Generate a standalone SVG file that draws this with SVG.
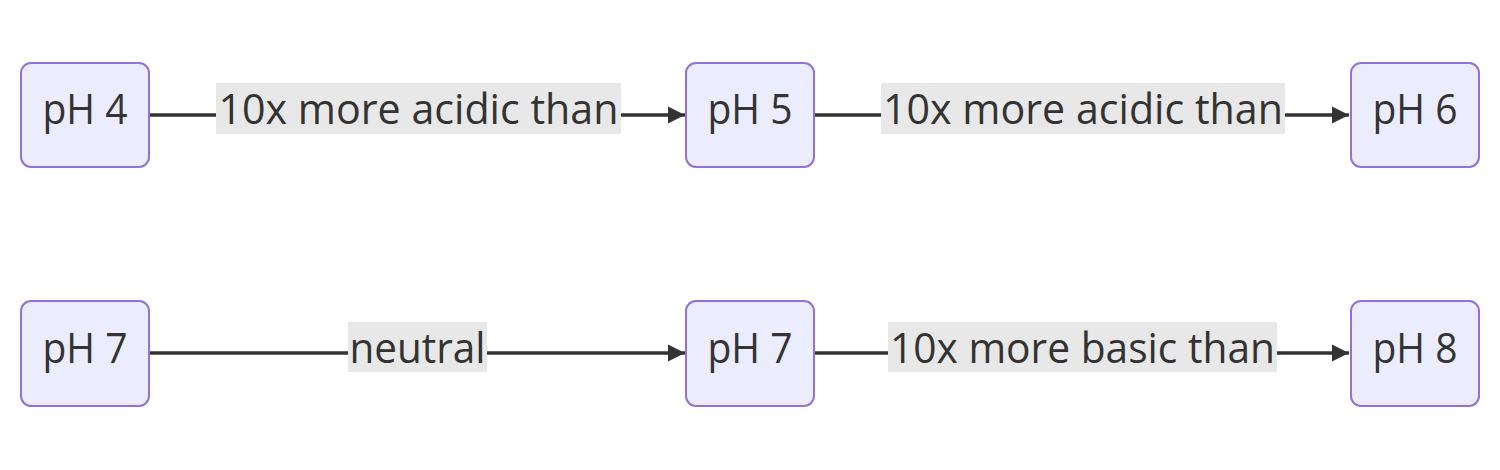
<svg xmlns="http://www.w3.org/2000/svg" width="1500" height="470" viewBox="0 0 1500 470">
<style>
.node rect{fill:#ECECFF;stroke:#9370DB;stroke-width:2}
.node text{font-family:"Open Sans","Noto Sans","DejaVu Sans",sans-serif;font-size:42px;fill:#333;text-anchor:middle}
.edge{stroke:#333;stroke-width:3.5;fill:none}
.lbl rect{fill:#e8e8e8}
.lbl text{font-family:"Open Sans","Noto Sans","DejaVu Sans",sans-serif;font-size:42px;fill:#333;text-anchor:middle}
</style>
<defs>
<marker id="arrow" viewBox="0 0 10 10" refX="10" refY="5" markerWidth="5" markerHeight="5" markerUnits="strokeWidth" orient="auto">
<path d="M0,0 L10,5 L0,10 z" fill="#333"/>
</marker>
</defs>
<rect width="1500" height="470" fill="#fff"/>
<g id="connectors">
<path class="edge" d="M149,115 L685,115" marker-end="url(#arrow)"/>
<path class="edge" d="M814,115 L1349,115" marker-end="url(#arrow)"/>
<path class="edge" d="M149,353 L685,353" marker-end="url(#arrow)"/>
<path class="edge" d="M814,353 L1349,353" marker-end="url(#arrow)"/>
<g class="lbl">
<rect x="216" y="83" width="405" height="51"/>
<text x="418.5" y="124" textLength="400" lengthAdjust="spacingAndGlyphs">10x more acidic than</text>
</g>
<g class="lbl">
<rect x="881" y="83" width="404" height="51"/>
<text x="1083" y="124" textLength="400" lengthAdjust="spacingAndGlyphs">10x more acidic than</text>
</g>
<g class="lbl">
<rect x="348" y="322" width="139" height="50"/>
<text x="417.5" y="363" textLength="136" lengthAdjust="spacingAndGlyphs">neutral</text>
</g>
<g class="lbl">
<rect x="888" y="322" width="389" height="50"/>
<text x="1082.5" y="363" textLength="385" lengthAdjust="spacingAndGlyphs">10x more basic than</text>
</g>
</g>
<g id="n_ph4" class="node"><rect x="21" y="63" width="128" height="104" rx="10"/><text x="85" y="124" textLength="85" lengthAdjust="spacingAndGlyphs">pH 4</text></g>
<g id="n_ph5" class="node"><rect x="686" y="63" width="128" height="104" rx="10"/><text x="750" y="124" textLength="85" lengthAdjust="spacingAndGlyphs">pH 5</text></g>
<g id="n_ph6" class="node"><rect x="1351" y="63" width="128" height="104" rx="10"/><text x="1415" y="124" textLength="85" lengthAdjust="spacingAndGlyphs">pH 6</text></g>
<g id="n_ph7a" class="node"><rect x="21" y="301" width="128" height="105" rx="10"/><text x="85" y="363" textLength="85" lengthAdjust="spacingAndGlyphs">pH 7</text></g>
<g id="n_ph7b" class="node"><rect x="686" y="301" width="128" height="105" rx="10"/><text x="750" y="363" textLength="85" lengthAdjust="spacingAndGlyphs">pH 7</text></g>
<g id="n_ph8" class="node"><rect x="1351" y="301" width="128" height="105" rx="10"/><text x="1415" y="363" textLength="85" lengthAdjust="spacingAndGlyphs">pH 8</text></g>
</svg>
